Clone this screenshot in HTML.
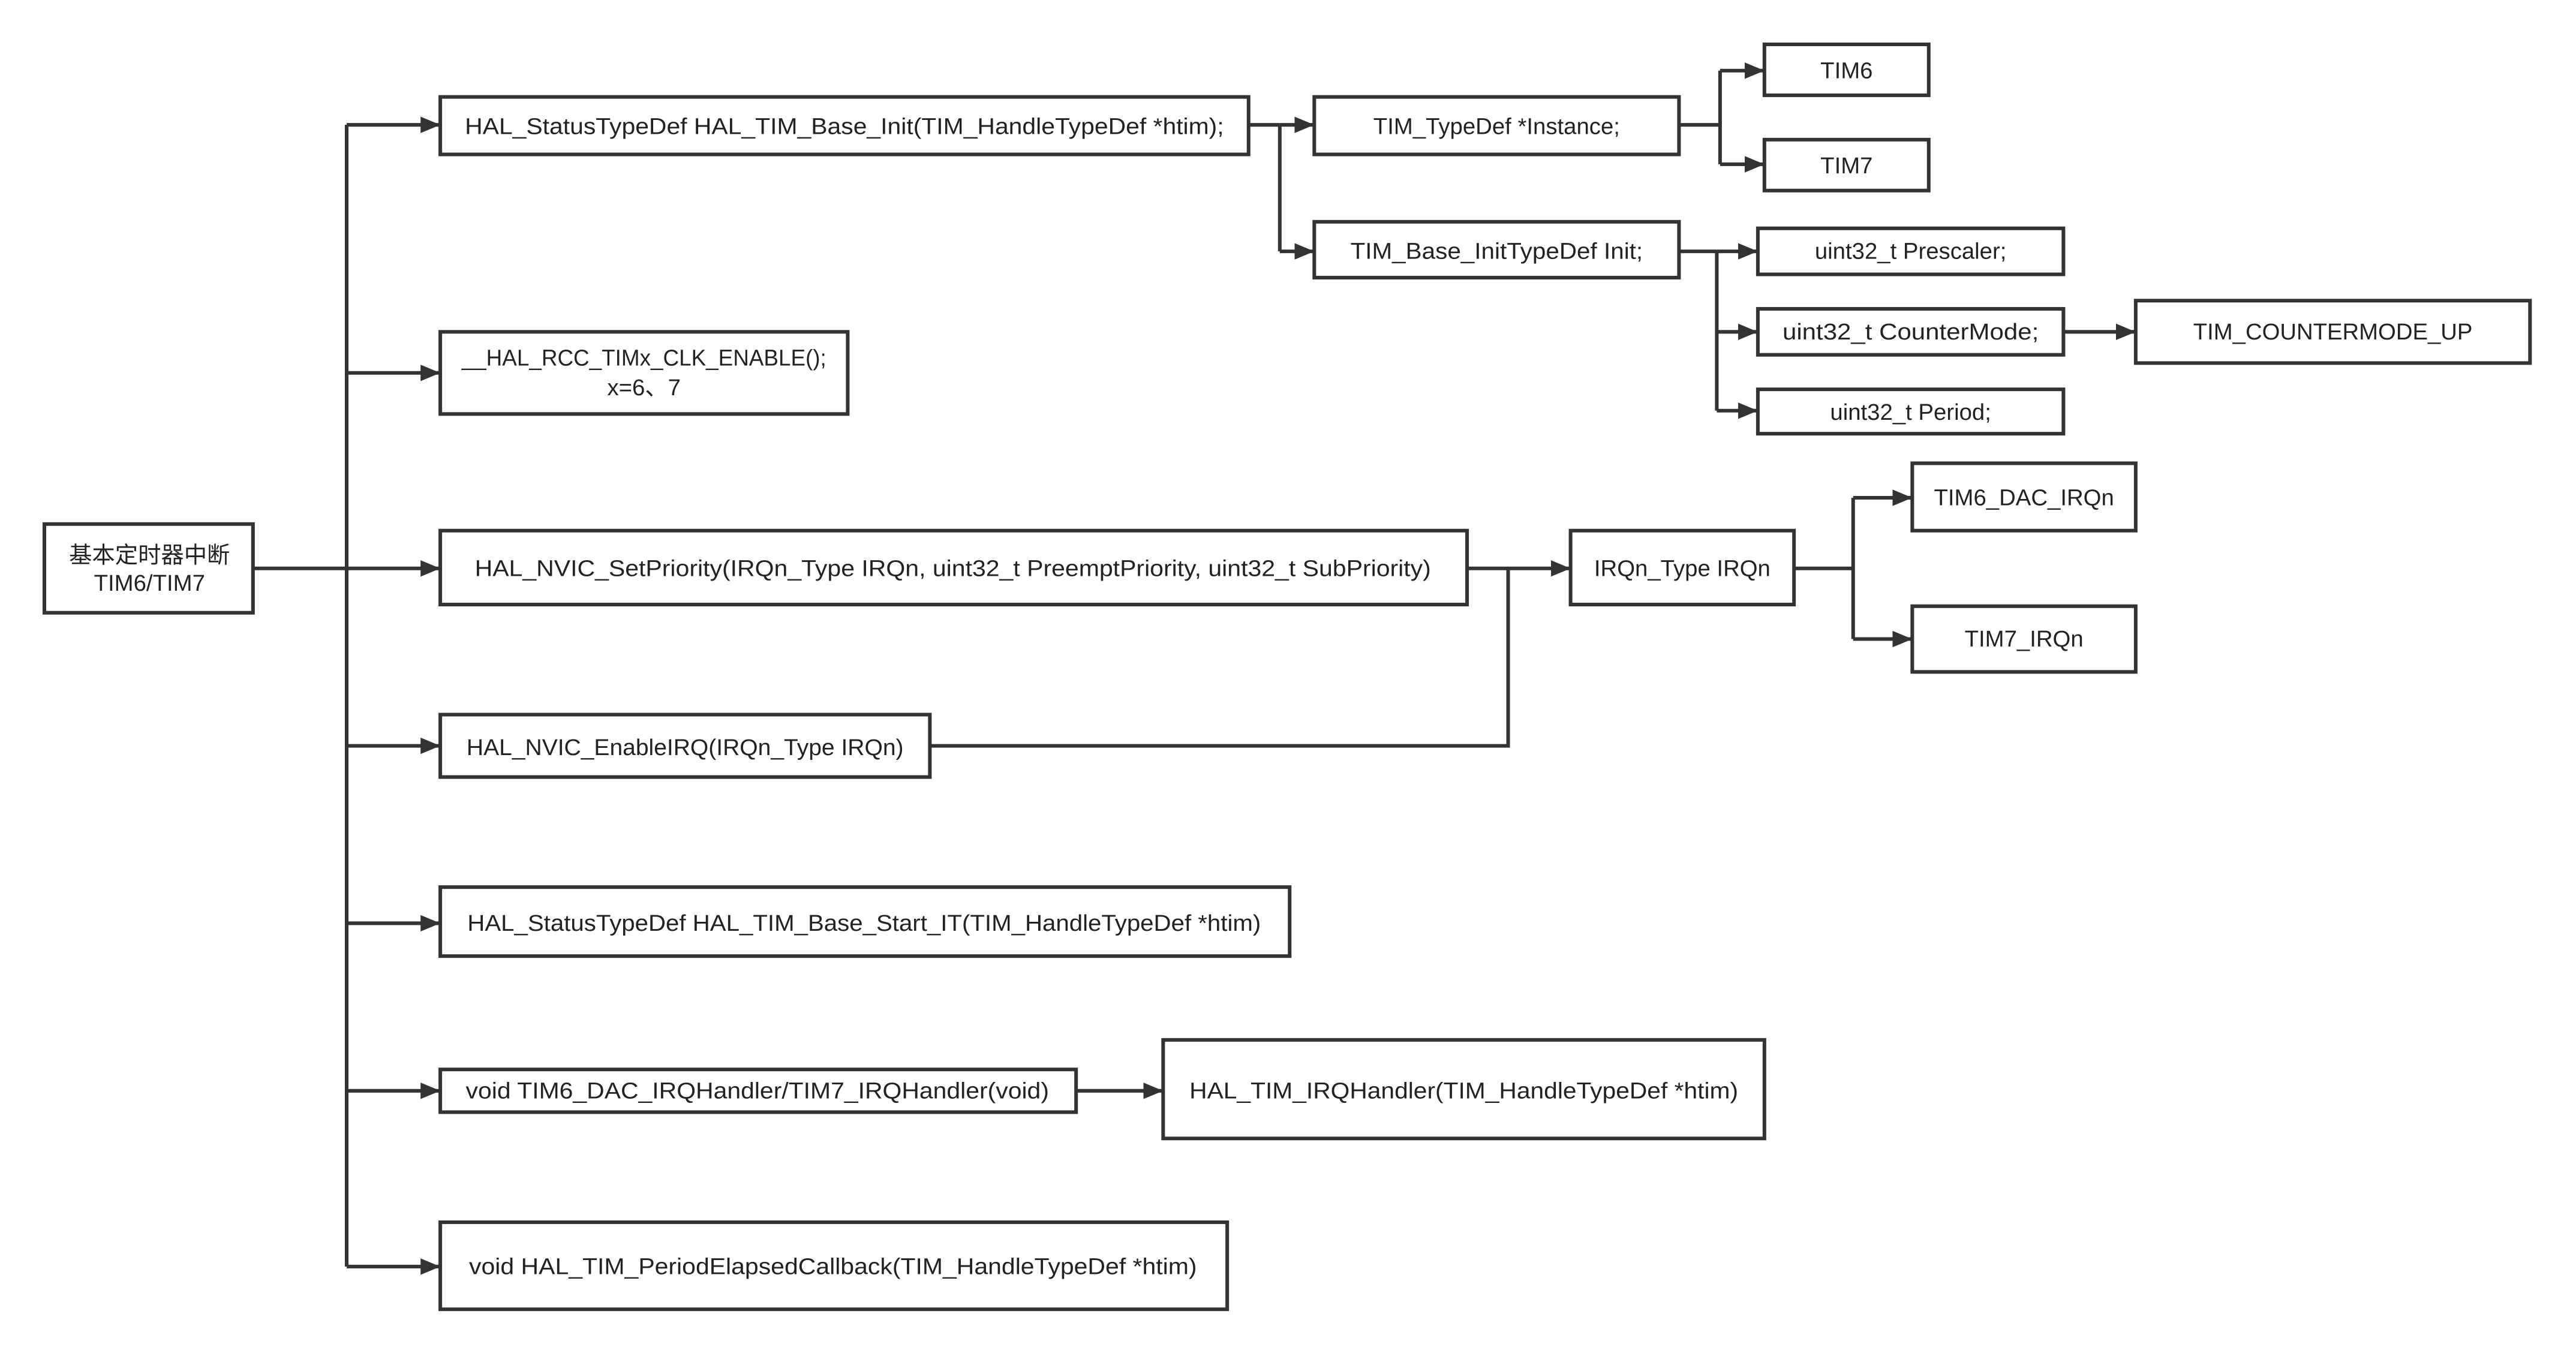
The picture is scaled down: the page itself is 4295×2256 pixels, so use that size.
<!DOCTYPE html>
<html><head><meta charset="utf-8">
<style>
html,body{margin:0;padding:0;background:#fff;}
svg{display:block;}
text{font-family:"Liberation Sans","Noto Sans CJK SC",sans-serif;font-size:14px;fill:#222;text-anchor:middle;dominant-baseline:central;}
</style></head>
<body>
<svg width="4295" height="2256" viewBox="0 0 1568 823.6" preserveAspectRatio="none" xmlns="http://www.w3.org/2000/svg">
<defs>
<marker id="a" markerWidth="12" markerHeight="10" refX="12" refY="5" orient="auto" markerUnits="userSpaceOnUse">
<path d="M0,0 L12,5 L0,10 Z" fill="#333"/>
</marker>
</defs>
<g stroke="#333" stroke-width="2.2" fill="none">
<line x1="154" y1="346" x2="211" y2="346"/>
<line x1="211" y1="76" x2="211" y2="771"/>
<line x1="211" y1="76" x2="268" y2="76" marker-end="url(#a)"/>
<line x1="211" y1="227" x2="268" y2="227" marker-end="url(#a)"/>
<line x1="211" y1="346" x2="268" y2="346" marker-end="url(#a)"/>
<line x1="211" y1="454" x2="268" y2="454" marker-end="url(#a)"/>
<line x1="211" y1="562" x2="268" y2="562" marker-end="url(#a)"/>
<line x1="211" y1="664" x2="268" y2="664" marker-end="url(#a)"/>
<line x1="211" y1="771" x2="268" y2="771" marker-end="url(#a)"/>
<line x1="760" y1="76" x2="779" y2="76"/>
<line x1="779" y1="76" x2="779" y2="153"/>
<line x1="779" y1="76" x2="800" y2="76" marker-end="url(#a)"/>
<line x1="779" y1="153" x2="800" y2="153" marker-end="url(#a)"/>
<line x1="1022" y1="76" x2="1047" y2="76"/>
<line x1="1047" y1="43" x2="1047" y2="100"/>
<line x1="1047" y1="43" x2="1074" y2="43" marker-end="url(#a)"/>
<line x1="1047" y1="100" x2="1074" y2="100" marker-end="url(#a)"/>
<line x1="1022" y1="153" x2="1045" y2="153"/>
<line x1="1045" y1="153" x2="1045" y2="250"/>
<line x1="1045" y1="153" x2="1070" y2="153" marker-end="url(#a)"/>
<line x1="1045" y1="202" x2="1070" y2="202" marker-end="url(#a)"/>
<line x1="1045" y1="250" x2="1070" y2="250" marker-end="url(#a)"/>
<line x1="1256" y1="202" x2="1300" y2="202" marker-end="url(#a)"/>
<line x1="893" y1="346" x2="956" y2="346" marker-end="url(#a)"/>
<polyline points="566,454 918,454 918,346"/>
<line x1="1092" y1="346" x2="1128" y2="346"/>
<line x1="1128" y1="303" x2="1128" y2="389"/>
<line x1="1128" y1="303" x2="1164" y2="303" marker-end="url(#a)"/>
<line x1="1128" y1="389" x2="1164" y2="389" marker-end="url(#a)"/>
<line x1="655" y1="664" x2="708" y2="664" marker-end="url(#a)"/>
<rect x="27" y="319" width="127" height="54"/>
<rect x="268" y="59" width="492" height="35"/>
<rect x="268" y="202" width="248" height="50"/>
<rect x="268" y="323" width="625" height="45"/>
<rect x="268" y="435" width="298" height="38"/>
<rect x="268" y="540" width="517" height="42"/>
<rect x="268" y="651" width="387" height="26"/>
<rect x="268" y="744" width="479" height="53"/>
<rect x="708" y="633" width="366" height="60"/>
<rect x="800" y="59" width="222" height="35"/>
<rect x="800" y="135" width="222" height="34"/>
<rect x="1074" y="27" width="100" height="31"/>
<rect x="1074" y="85" width="100" height="31"/>
<rect x="1070" y="139" width="186" height="28"/>
<rect x="1070" y="188" width="186" height="28"/>
<rect x="1070" y="237" width="186" height="27"/>
<rect x="1300" y="183" width="240" height="38"/>
<rect x="956" y="323" width="136" height="45"/>
<rect x="1164" y="282" width="136" height="41"/>
<rect x="1164" y="369" width="136" height="40"/>
</g>
<g>
<text x="91" y="338">基本定时器中断</text>
<text x="91" y="355">TIM6/TIM7</text>
<text x="514" y="77" textLength="462" lengthAdjust="spacingAndGlyphs">HAL_StatusTypeDef  HAL_TIM_Base_Init(TIM_HandleTypeDef *htim);</text>
<text x="392" y="218" textLength="222" lengthAdjust="spacingAndGlyphs">__HAL_RCC_TIMx_CLK_ENABLE();</text>
<text x="392" y="236">x=6、7</text>
<text x="580" y="346" textLength="582" lengthAdjust="spacingAndGlyphs">HAL_NVIC_SetPriority(IRQn_Type IRQn, uint32_t PreemptPriority, uint32_t SubPriority)</text>
<text x="417" y="455" textLength="266" lengthAdjust="spacingAndGlyphs">HAL_NVIC_EnableIRQ(IRQn_Type IRQn)</text>
<text x="526" y="562" textLength="483" lengthAdjust="spacingAndGlyphs">HAL_StatusTypeDef HAL_TIM_Base_Start_IT(TIM_HandleTypeDef *htim)</text>
<text x="461" y="664" textLength="355" lengthAdjust="spacingAndGlyphs">void TIM6_DAC_IRQHandler/TIM7_IRQHandler(void)</text>
<text x="507" y="771" textLength="443" lengthAdjust="spacingAndGlyphs">void HAL_TIM_PeriodElapsedCallback(TIM_HandleTypeDef *htim)</text>
<text x="891" y="664" textLength="334" lengthAdjust="spacingAndGlyphs">HAL_TIM_IRQHandler(TIM_HandleTypeDef *htim)</text>
<text x="911" y="77">TIM_TypeDef  *Instance;</text>
<text x="911" y="153" textLength="178" lengthAdjust="spacingAndGlyphs">TIM_Base_InitTypeDef Init;</text>
<text x="1124" y="43">TIM6</text>
<text x="1124" y="101">TIM7</text>
<text x="1163" y="153">uint32_t Prescaler;</text>
<text x="1163" y="202" textLength="156" lengthAdjust="spacingAndGlyphs">uint32_t CounterMode;</text>
<text x="1163" y="251">uint32_t Period;</text>
<text x="1420" y="202" textLength="170" lengthAdjust="spacingAndGlyphs">TIM_COUNTERMODE_UP</text>
<text x="1024" y="346">IRQn_Type IRQn</text>
<text x="1232" y="303">TIM6_DAC_IRQn</text>
<text x="1232" y="389">TIM7_IRQn</text>
</g>
</svg>
</body></html>
